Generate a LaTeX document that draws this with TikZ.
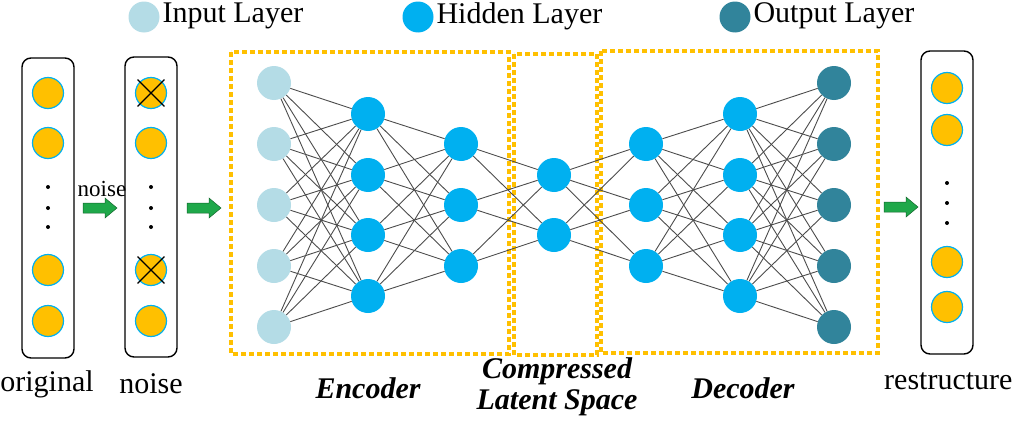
\documentclass[tikz,border=0pt]{standalone}
\usepackage{fontspec}
\setmainfont{Liberation Serif}
\usetikzlibrary{calc}
\definecolor{org}{HTML}{FFC000}
\definecolor{cy}{HTML}{00B0F0}
\definecolor{lb}{HTML}{B4DCE6}
\definecolor{dk}{HTML}{31849B}
\definecolor{gr}{HTML}{1FA84A}
\begin{document}
\begin{tikzpicture}[x=1pt,y=-1pt,
 nn/.style={circle,minimum size=34pt,inner sep=0pt},
 inp/.style={nn,fill=lb}, hid/.style={nn,fill=cy}, outp/.style={nn,fill=dk},
 dat/.style={circle,minimum size=31pt,inner sep=0pt,fill=org,draw=cy,line width=1.2pt},
 col/.style={draw,rounded corners=9pt,line width=1.4pt},
 dbox/.style={draw=org,dash pattern=on 5pt off 3pt,line width=3.5pt},
 edge/.style={draw=black!70,line width=0.9pt},
 arr/.style={fill=gr,draw=gr!60!black,line width=0.5pt},
 lbl/.style={font=\fontsize{30}{32}\selectfont},
 bi/.style={font=\fontsize{30}{31}\selectfont\bfseries\itshape}]
\useasboundingbox (0,0) rectangle (1015,423);
% legend
\node[nn,fill=lb,minimum size=31pt] (l1) at (144,17) {};
\node[lbl,anchor=west] (t1) at (159,16) {Input Layer};
\node[nn,fill=cy,minimum size=31pt] (l2) at (418,17) {};
\node[lbl,anchor=west] (t2) at (433,16) {Hidden Layer};
\node[nn,fill=dk,minimum size=31pt] (l3) at (735,17) {};
\node[lbl,anchor=west] (t3) at (750,16) {Output Layer};
% dashed boxes
\draw[dbox] (231,52) rectangle (509,354);
\draw[dbox] (514,54) rectangle (597,355);
\draw[dbox] (601,51) rectangle (878,353);
% network
\foreach \i/\y in {1/83,2/144,3/205,4/266,5/327}{\node[inp] (a\i) at (274,\y) {}; \node[outp] (f\i) at (834,\y) {};}
\foreach \i/\y in {1/114,2/175,3/235,4/296}{\node[hid] (b\i) at (368,\y) {}; \node[hid] (e\i) at (740,\y) {};}
\foreach \i/\y in {1/144,2/205,3/266}{\node[hid] (c\i) at (461,\y) {}; \node[hid] (d\i) at (646,\y) {};}
\foreach \i/\y in {1/175,2/235}{\node[hid] (z\i) at (554,\y) {};}
\foreach \i in {1,...,5}\foreach \j in {1,...,4}{\draw[edge] (a\i) -- (b\j); \draw[edge] (e\j) -- (f\i);}
\foreach \i in {1,...,4}\foreach \j in {1,...,3}{\draw[edge] (b\i) -- (c\j); \draw[edge] (d\j) -- (e\i);}
\foreach \i in {1,...,3}\foreach \j in {1,2}{\draw[edge] (c\i) -- (z\j); \draw[edge] (z\j) -- (d\i);}
% columns
\draw[col] (22,58) rectangle (74,358);
\draw[col] (125,57) rectangle (177,357);
\draw[col] (921,51) rectangle (973,354);
\foreach \y [count=\k] in {93,143,270,321}{\node[dat] (o\k) at (48,\y) {}; \node[dat] (n\k) at (151,\y) {};}
\foreach \y [count=\k] in {88,130,262,307}{\node[dat] (r\k) at (947,\y) {};}
\foreach \y in {187,208,227}{\fill (48,\y) circle (2); \fill (151,\y) circle (2);}
\foreach \y in {183,203,223}{\fill (947,\y) circle (2);}
\foreach \k in {1,3}{\draw[line width=1.1pt] ($(n\k.north west)+(-2,-2)$) -- ($(n\k.south east)+(2,2)$) ($(n\k.north east)+(2,-2)$) -- ($(n\k.south west)+(-2,2)$);}
% arrows
\foreach \n/\x/\y in {ar1/100/208,ar2/204/208,ar3/901/207}{
 \coordinate (\n) at (\x,\y);
 \draw[arr] ($(\n)+(-17,-5)$) -- ($(\n)+(5,-5)$) -- ($(\n)+(5,-10)$) -- ($(\n)+(17,0)$) -- ($(\n)+(5,10)$) -- ($(\n)+(5,5)$) -- ($(\n)+(-17,5)$) -- cycle;}
\node[font=\fontsize{23}{24}\selectfont] (nz) at (102,189) {noise};
% labels
\node[lbl] (lo) at (47,384) {original};
\node[lbl] (ln) at (151,384) {noise};
\node[lbl,anchor=east] (lr) at (1016,381) {restructure};
\node[bi] (le) at (368,388) {Encoder};
\node[bi,align=center] (lz) at (557,387) {Compressed\\Latent Space};
\node[bi] (ld) at (743,388) {Decoder};
\end{tikzpicture}
\end{document}
